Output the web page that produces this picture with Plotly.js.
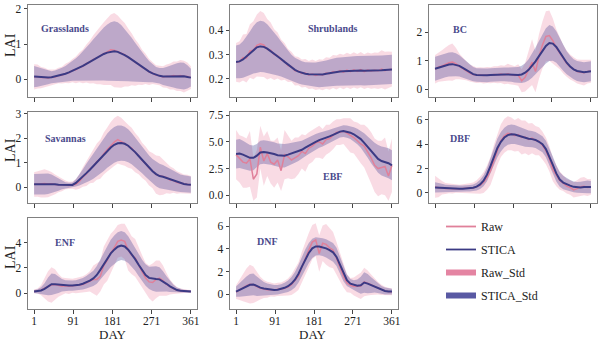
<!DOCTYPE html>
<html>
<head>
<meta charset="utf-8">
<script src="https://cdn.plot.ly/plotly-3.0.1.min.js"></script>
<style>html,body{margin:0;padding:0;background:#fff;}#chart{width:604px;height:341px;}</style>
</head>
<body>
<div id="chart"></div>
<script>
// ---------- DATA ----------
const days = [1,9,17,25,33,41,49,57,65,73,81,89,97,105,113,121,129,137,145,153,161,169,177,185,193,201,209,217,225,233,241,249,257,265,273,281,289,297,305,313,321,329,337,345,353,361];
const xTicks = [1,91,181,271,361];
const panelNames = ["Grasslands","Shrublands","BC","Savannas","EBF","DBF","ENF","DNF"];

// Grasslands
const grassRaw = [0.07,0.08,0.05,0.06,0.04,0.07,0.07,0.11,0.12,0.17,0.19,0.25,0.27,0.34,0.37,0.45,0.49,0.57,0.61,0.68,0.73,0.78,0.84,0.83,0.79,0.73,0.70,0.62,0.57,0.48,0.43,0.34,0.30,0.21,0.18,0.12,0.11,0.07,0.09,0.08,0.11,0.09,0.11,0.08,0.08,0.05];
const grassRawStd = [0.36,0.34,0.30,0.27,0.24,0.22,0.21,0.22,0.24,0.27,0.30,0.33,0.38,0.42,0.48,0.54,0.61,0.68,0.75,0.82,0.89,0.95,1.00,1.05,1.02,0.97,0.90,0.82,0.74,0.66,0.58,0.50,0.43,0.37,0.31,0.28,0.28,0.30,0.33,0.37,0.40,0.42,0.44,0.45,0.40,0.32];
const grassStica = [0.08,0.07,0.06,0.05,0.05,0.06,0.08,0.10,0.13,0.16,0.20,0.24,0.28,0.33,0.38,0.44,0.50,0.56,0.62,0.67,0.72,0.76,0.79,0.80,0.78,0.74,0.69,0.63,0.56,0.49,0.42,0.35,0.28,0.22,0.17,0.13,0.10,0.08,0.08,0.09,0.10,0.10,0.10,0.09,0.07,0.05];
const grassSticaStd = [0.30,0.28,0.25,0.22,0.19,0.17,0.17,0.18,0.20,0.22,0.25,0.28,0.32,0.36,0.41,0.46,0.52,0.58,0.64,0.70,0.75,0.80,0.83,0.85,0.84,0.80,0.74,0.68,0.62,0.55,0.48,0.42,0.36,0.30,0.25,0.22,0.22,0.24,0.27,0.30,0.33,0.36,0.38,0.38,0.33,0.25];

// Shrublands
const shrubRaw = [0.268,0.270,0.288,0.285,0.315,0.318,0.338,0.345,0.340,0.322,0.318,0.300,0.296,0.278,0.272,0.255,0.250,0.233,0.232,0.222,0.224,0.216,0.220,0.214,0.219,0.216,0.224,0.221,0.230,0.226,0.234,0.228,0.236,0.230,0.237,0.231,0.238,0.230,0.236,0.232,0.235,0.233,0.240,0.234,0.238,0.240];
const shrubRawStd = [0.080,0.085,0.095,0.100,0.110,0.120,0.128,0.135,0.132,0.125,0.115,0.105,0.095,0.085,0.076,0.068,0.062,0.060,0.058,0.058,0.058,0.058,0.060,0.060,0.062,0.063,0.065,0.066,0.068,0.070,0.070,0.071,0.072,0.072,0.073,0.072,0.073,0.072,0.073,0.073,0.074,0.075,0.078,0.078,0.075,0.072];
const shrubStica = [0.270,0.272,0.280,0.292,0.306,0.320,0.330,0.334,0.332,0.325,0.315,0.305,0.294,0.282,0.270,0.258,0.247,0.237,0.230,0.225,0.221,0.219,0.218,0.217,0.217,0.218,0.221,0.224,0.227,0.229,0.230,0.231,0.232,0.233,0.233,0.234,0.234,0.233,0.233,0.233,0.234,0.235,0.236,0.237,0.238,0.239];
const shrubSticaStd = [0.068,0.070,0.075,0.082,0.090,0.098,0.104,0.106,0.105,0.100,0.094,0.087,0.080,0.072,0.065,0.058,0.053,0.050,0.049,0.048,0.048,0.048,0.049,0.050,0.052,0.053,0.055,0.056,0.057,0.058,0.058,0.059,0.059,0.059,0.060,0.060,0.060,0.060,0.060,0.060,0.060,0.060,0.060,0.060,0.060,0.060];

// BC
const bcRaw = [0.70,0.78,0.82,0.88,0.93,0.95,0.90,0.80,0.72,0.65,0.57,0.52,0.49,0.50,0.48,0.50,0.49,0.52,0.51,0.53,0.50,0.54,0.52,0.48,0.50,0.30,0.42,0.70,0.95,0.62,1.15,1.55,1.85,1.88,1.70,1.45,1.25,1.05,0.90,0.78,0.70,0.62,0.60,0.58,0.62,0.63];
const bcRawStd = [0.50,0.52,0.55,0.58,0.62,0.65,0.55,0.45,0.38,0.33,0.30,0.28,0.27,0.27,0.28,0.28,0.28,0.29,0.30,0.31,0.32,0.35,0.34,0.33,0.38,0.40,0.50,0.65,0.80,0.72,0.78,0.82,0.88,0.88,0.78,0.65,0.55,0.50,0.46,0.44,0.42,0.42,0.43,0.45,0.42,0.40];
const bcStica = [0.72,0.76,0.80,0.84,0.87,0.88,0.86,0.82,0.75,0.67,0.59,0.53,0.50,0.49,0.49,0.49,0.50,0.51,0.52,0.52,0.52,0.52,0.51,0.50,0.50,0.52,0.58,0.68,0.82,0.98,1.16,1.35,1.52,1.62,1.60,1.48,1.30,1.10,0.93,0.80,0.70,0.64,0.61,0.60,0.61,0.63];
const bcSticaStd = [0.42,0.42,0.42,0.42,0.42,0.42,0.40,0.37,0.33,0.30,0.27,0.25,0.24,0.24,0.24,0.24,0.24,0.24,0.24,0.24,0.24,0.24,0.25,0.26,0.28,0.30,0.33,0.37,0.42,0.48,0.53,0.58,0.62,0.63,0.60,0.55,0.50,0.45,0.40,0.37,0.35,0.35,0.35,0.35,0.35,0.35];

// Savannas
const savRaw = [0.12,0.14,0.13,0.16,0.14,0.15,0.12,0.12,0.09,0.10,0.08,0.09,0.12,0.24,0.42,0.55,0.75,0.85,1.05,1.15,1.38,1.55,1.72,1.85,1.95,1.88,1.80,1.68,1.60,1.42,1.30,1.10,0.97,0.78,0.68,0.52,0.48,0.42,0.40,0.30,0.28,0.20,0.18,0.13,0.13,0.10];
const savRawStd = [0.50,0.52,0.55,0.58,0.55,0.48,0.40,0.32,0.25,0.18,0.15,0.15,0.22,0.30,0.40,0.50,0.58,0.66,0.74,0.80,0.86,0.90,0.95,0.98,0.98,0.96,0.92,0.88,0.84,0.80,0.76,0.72,0.70,0.70,0.72,0.78,0.80,0.72,0.64,0.56,0.50,0.46,0.42,0.40,0.38,0.36];
const savStica = [0.13,0.13,0.14,0.15,0.15,0.14,0.13,0.11,0.10,0.09,0.09,0.10,0.18,0.30,0.44,0.58,0.72,0.87,1.02,1.18,1.34,1.50,1.63,1.74,1.80,1.81,1.78,1.70,1.58,1.44,1.28,1.12,0.95,0.80,0.66,0.54,0.46,0.43,0.38,0.32,0.26,0.21,0.17,0.14,0.12,0.11];
const savSticaStd = [0.42,0.43,0.44,0.44,0.42,0.38,0.32,0.25,0.18,0.12,0.10,0.10,0.15,0.22,0.30,0.38,0.45,0.52,0.58,0.63,0.67,0.70,0.72,0.73,0.73,0.72,0.70,0.67,0.64,0.60,0.57,0.54,0.52,0.50,0.50,0.50,0.50,0.48,0.45,0.42,0.40,0.38,0.36,0.35,0.34,0.33];

// EBF
const ebfRaw = [3.8,3.4,3.1,3.0,3.4,1.5,2.0,4.5,3.2,3.9,3.1,2.9,3.3,2.3,3.8,3.6,3.3,3.5,3.7,4.1,3.9,4.4,4.6,4.9,5.0,4.8,5.2,5.3,5.6,5.9,5.9,6.0,5.8,5.6,5.4,5.1,4.8,4.6,4.1,3.5,2.8,2.5,2.6,2.7,1.8,2.8];
const ebfRawStd = [2.3,2.2,2.4,2.3,2.6,2.0,2.2,2.0,2.3,2.1,2.0,2.2,2.1,1.9,2.3,2.0,1.8,1.9,1.7,1.6,1.7,1.5,1.5,1.4,1.5,1.4,1.4,1.3,1.3,1.2,1.2,1.2,1.4,1.6,1.5,1.7,1.8,2.0,2.2,2.4,2.5,2.6,2.5,2.7,2.3,2.5];
const ebfStica = [3.85,3.9,3.8,3.65,3.5,3.5,3.7,4.0,4.05,4.0,3.95,3.85,3.75,3.7,3.7,3.8,3.9,4.0,4.1,4.25,4.45,4.65,4.85,5.0,5.15,5.25,5.35,5.5,5.65,5.8,5.95,6.0,5.95,5.85,5.7,5.5,5.25,4.9,4.5,4.1,3.7,3.4,3.2,3.1,3.0,2.8];
const ebfSticaStd = [1.35,1.35,1.3,1.25,1.2,1.15,1.1,1.1,1.1,1.1,1.1,1.1,1.1,1.1,1.1,1.05,1.0,0.95,0.9,0.85,0.8,0.78,0.75,0.72,0.7,0.68,0.65,0.62,0.6,0.57,0.55,0.55,0.57,0.6,0.65,0.72,0.8,0.9,1.0,1.1,1.2,1.3,1.35,1.4,1.4,1.4];

// DBF
const dbfRaw = [0.50,0.40,0.42,0.36,0.38,0.34,0.37,0.33,0.36,0.35,0.40,0.40,0.48,0.62,0.85,1.25,1.80,2.70,3.60,4.30,4.70,4.90,4.85,4.70,4.80,4.55,4.60,4.40,4.50,4.30,4.25,3.90,3.45,2.80,1.90,1.40,1.00,0.80,0.55,0.45,0.25,0.35,0.50,0.55,0.45,0.50];
const dbfRawStd = [0.90,0.75,0.55,0.45,0.40,0.38,0.35,0.35,0.36,0.38,0.40,0.45,0.55,0.70,0.85,1.00,1.15,1.25,1.30,1.35,1.40,1.40,1.35,1.30,1.35,1.40,1.35,1.30,1.25,1.20,1.15,1.15,1.10,1.05,0.95,0.85,0.75,0.65,0.60,0.60,0.62,0.68,0.75,0.75,0.70,0.65];
const dbfStica = [0.45,0.43,0.40,0.38,0.37,0.36,0.35,0.35,0.35,0.36,0.38,0.42,0.52,0.70,1.00,1.50,2.20,3.00,3.70,4.20,4.55,4.75,4.82,4.80,4.72,4.60,4.50,4.45,4.42,4.35,4.20,4.00,3.60,3.00,2.30,1.60,1.10,0.85,0.70,0.60,0.50,0.45,0.45,0.48,0.50,0.48];
const dbfSticaStd = [0.42,0.40,0.35,0.30,0.28,0.26,0.25,0.25,0.25,0.25,0.26,0.28,0.32,0.38,0.46,0.55,0.65,0.72,0.78,0.80,0.80,0.80,0.80,0.78,0.75,0.72,0.70,0.68,0.66,0.65,0.65,0.66,0.68,0.70,0.70,0.66,0.60,0.55,0.50,0.46,0.44,0.44,0.46,0.50,0.52,0.50];

// ENF
const enfRaw = [0.15,0.18,0.25,0.40,0.55,0.65,0.70,0.62,0.55,0.60,0.55,0.60,0.60,0.65,0.70,0.80,0.95,1.10,1.10,1.35,2.20,2.60,3.20,3.60,4.10,4.20,4.10,3.40,3.00,2.80,2.20,1.70,1.20,0.90,0.85,1.10,1.20,1.00,0.70,0.50,0.35,0.25,0.20,0.17,0.16,0.15];
const enfRawStd = [0.15,0.20,0.40,0.80,1.20,1.40,1.20,0.90,0.70,0.60,0.60,0.55,0.60,0.60,0.65,0.70,0.80,1.10,1.30,1.20,1.50,1.60,1.50,1.40,1.30,1.30,1.40,1.60,1.50,1.50,1.40,1.30,1.20,1.30,1.50,1.50,1.40,1.20,0.90,0.60,0.40,0.25,0.18,0.14,0.12,0.12];
const enfStica = [0.15,0.17,0.22,0.35,0.55,0.72,0.72,0.68,0.64,0.62,0.61,0.61,0.63,0.68,0.76,0.87,1.00,1.18,1.45,1.85,2.30,2.75,3.15,3.45,3.68,3.78,3.70,3.45,3.10,2.70,2.25,1.80,1.45,1.22,1.15,1.13,1.10,0.95,0.75,0.55,0.38,0.26,0.20,0.17,0.16,0.15];
const enfSticaStd = [0.12,0.15,0.25,0.45,0.70,0.85,0.80,0.65,0.50,0.42,0.40,0.40,0.40,0.42,0.45,0.50,0.55,0.60,0.70,0.80,0.90,1.00,1.08,1.12,1.15,1.15,1.12,1.05,0.98,0.92,0.88,0.85,0.85,0.88,0.95,1.00,0.95,0.80,0.60,0.45,0.30,0.20,0.15,0.12,0.10,0.10];

// DNF
const dnfRaw = [0.20,0.42,0.60,0.78,0.90,0.85,0.70,0.55,0.48,0.42,0.44,0.38,0.45,0.45,0.55,0.65,0.85,1.20,1.60,2.40,3.20,3.90,4.60,4.80,3.60,4.50,4.40,4.10,3.90,3.20,2.40,1.60,1.00,0.80,0.70,0.72,0.75,1.10,1.00,0.85,0.70,0.55,0.40,0.30,0.25,0.22];
const dnfRawStd = [0.60,0.90,1.20,1.50,1.70,1.60,1.30,1.00,0.80,0.70,0.62,0.58,0.58,0.60,0.65,0.75,0.90,1.05,1.20,1.35,1.45,1.50,1.50,1.45,1.60,1.55,1.80,1.70,1.60,1.40,1.20,1.00,0.80,0.65,0.80,1.00,1.15,1.25,1.10,0.90,0.70,0.55,0.45,0.38,0.34,0.30];
const dnfStica = [0.25,0.40,0.55,0.70,0.85,0.88,0.72,0.60,0.52,0.46,0.42,0.40,0.42,0.48,0.58,0.72,0.95,1.30,1.80,2.45,3.10,3.65,4.05,4.22,4.22,4.15,4.05,3.90,3.70,3.30,2.60,1.80,1.25,0.95,0.82,0.76,0.80,1.05,0.95,0.82,0.72,0.55,0.40,0.30,0.25,0.25];
const dnfSticaStd = [0.45,0.60,0.75,0.88,0.95,0.95,0.85,0.70,0.58,0.50,0.45,0.42,0.42,0.42,0.45,0.50,0.58,0.68,0.78,0.85,0.88,0.88,0.85,0.80,0.78,0.78,0.80,0.82,0.82,0.80,0.75,0.65,0.50,0.40,0.42,0.55,0.75,0.90,0.85,0.70,0.55,0.45,0.35,0.30,0.28,0.25];

// y-axis ticks per panel
const yTickVals = [[0,1,2],[0.2,0.3,0.4],[0,1,2],[0,1,2,3],[0,2.5,5,7.5],[0,2,4,6],[0,2,4],[0,2,4,6]];
const yRanges = [[-0.5,2.11],[0.125,0.505],[-0.27,2.95],[-0.64,3.10],[-0.72,7.83],[-0.83,6.69],[-1.24,5.95],[-1.28,6.72]];

// ---------- STYLE ----------
const FONT = "Liberation Serif, Times New Roman, serif";
const RAW_FILL = "rgba(232,122,156,0.27)";
const STICA_FILL = "rgba(72,70,150,0.34)";
const RAW_LINE = "#e0809a";
const STICA_LINE = "#3b3a84";
const TITLE_COLOR = "#4a4a8c";
const TICK_SIZE = 11.5;

const panels = [
  [grassRaw, grassRawStd, grassStica, grassSticaStd],
  [shrubRaw, shrubRawStd, shrubStica, shrubSticaStd],
  [bcRaw, bcRawStd, bcStica, bcSticaStd],
  [savRaw, savRawStd, savStica, savSticaStd],
  [ebfRaw, ebfRawStd, ebfStica, ebfSticaStd],
  [dbfRaw, dbfRawStd, dbfStica, dbfSticaStd],
  [enfRaw, enfRawStd, enfStica, enfSticaStd],
  [dnfRaw, dnfRawStd, dnfStica, dnfSticaStd]
];

const W = 604, H = 341;
const colPx = [[28,197],[230,398],[429,597]];
const rowPx = [[5,97],[111.5,203],[218,309]];
const pos = [[0,0],[0,1],[0,2],[1,0],[1,1],[1,2],[2,0],[2,1]];
const titlePos = [[65,28],[333,28],[460,29],[65,138],[332,176],[460,138],[65,242],[267,241]];
const laiY = [45, 150, 257];
const dayX = [113, 313];
const dayY = 334.5;

function band(mean, sd, xa, ya, color) {
  const up = mean.map((v,i)=>v+sd[i]);
  const lo = mean.map((v,i)=>v-sd[i]);
  return {
    x: days.concat(days.slice().reverse()),
    y: up.concat(lo.slice().reverse()),
    xaxis: xa, yaxis: ya, type: 'scatter', mode: 'lines',
    fill: 'toself', fillcolor: color, line: {width: 0, color: 'rgba(0,0,0,0)'},
    hoverinfo: 'skip', showlegend: false
  };
}

const traces = [];
const layout = {
  width: W, height: H,
  margin: {l:0, r:0, t:0, b:0},
  paper_bgcolor: '#fff', plot_bgcolor: '#fff',
  font: {family: FONT, size: 12, color: '#222'},
  showlegend: true,
  legend: {
    x: 441/W, y: 1 - 212/H, xanchor: 'left', yanchor: 'top',
    font: {family: FONT, size: 12, color: '#222'},
    traceorder: 'grouped', tracegroupgap: 4,
    bgcolor: 'rgba(0,0,0,0)', borderwidth: 0, itemwidth: 30
  },
  annotations: []
};

panels.forEach((p, k) => {
  const n = k === 0 ? '' : String(k+1);
  const xa = 'x' + n, ya = 'y' + n;
  const [r, c] = pos[k];
  traces.push(band(p[0], p[1], xa, ya, RAW_FILL));
  traces.push(band(p[2], p[3], xa, ya, STICA_FILL));
  traces.push({x: days, y: p[0], xaxis: xa, yaxis: ya, type:'scatter', mode:'lines',
    line: {color: RAW_LINE, width: 1.5}, showlegend: false, hoverinfo:'skip'});
  traces.push({x: days, y: p[2], xaxis: xa, yaxis: ya, type:'scatter', mode:'lines',
    line: {color: STICA_LINE, width: 2}, showlegend: false, hoverinfo:'skip'});

  const bottom = (r === 2);
  layout['xaxis' + n] = {
    domain: [colPx[c][0]/W, colPx[c][1]/W], anchor: ya,
    range: [-13, 375], tickvals: xTicks, ticktext: xTicks.map(String),
    showticklabels: bottom, ticks: 'outside', ticklen: 3.5, tickwidth: 1, tickcolor: '#444',
    ticklabelstandoff: -2,
    showline: true, mirror: true, linecolor: '#808080', linewidth: 1,
    showgrid: false, zeroline: false,
    tickfont: {family: FONT, size: TICK_SIZE, color: '#222'}
  };
  const tv = yTickVals[k];
  const fmt = (k === 1 || k === 4) ? (v => v.toFixed(1)) : (v => String(v));
  layout['yaxis' + n] = {
    domain: [1 - rowPx[r][1]/H, 1 - rowPx[r][0]/H], anchor: xa,
    range: yRanges[k], tickvals: tv, ticktext: tv.map(fmt),
    ticks: 'outside', ticklen: 3.5, tickwidth: 1, tickcolor: '#444',
    showline: true, mirror: true, linecolor: '#808080', linewidth: 1,
    showgrid: false, zeroline: false,
    tickfont: {family: FONT, size: TICK_SIZE, color: '#222'}
  };
  layout.annotations.push({
    xref: 'paper', yref: 'paper', x: titlePos[k][0]/W, y: 1 - titlePos[k][1]/H,
    xanchor: 'center', yanchor: 'middle', showarrow: false,
    text: '<b>' + panelNames[k] + '</b>',
    font: {family: FONT, size: 10, color: TITLE_COLOR}
  });
});

// axis titles
laiY.forEach(y => layout.annotations.push({
  xref:'paper', yref:'paper', x: 10/W, y: 1 - y/H, xanchor:'center', yanchor:'middle',
  showarrow:false, text:'LAI', textangle: -90, font:{family: FONT, size: 14, color:'#222'}
}));
dayX.forEach(x => layout.annotations.push({
  xref:'paper', yref:'paper', x: x/W, y: 1 - dayY/H, xanchor:'center', yanchor:'middle',
  showarrow:false, text:'DAY', font:{family: FONT, size: 13, color:'#222'}
}));

// legend entries
traces.push({x:[null], y:[null], type:'scatter', mode:'lines', name:'Raw', legendgroup:'a',
  line:{color: RAW_LINE, width: 1.8}, xaxis:'x', yaxis:'y', hoverinfo:'skip'});
traces.push({x:[null], y:[null], type:'scatter', mode:'lines', name:'STICA', legendgroup:'b',
  line:{color: STICA_LINE, width: 1.8}, xaxis:'x', yaxis:'y', hoverinfo:'skip'});
traces.push({x:[null], y:[null], type:'scatter', mode:'none', name:'Raw_Std', legendgroup:'c',
  fill:'toself', fillcolor:'rgba(226,122,154,0.92)', xaxis:'x', yaxis:'y', hoverinfo:'skip'});
traces.push({x:[null], y:[null], type:'scatter', mode:'none', name:'STICA_Std', legendgroup:'d',
  fill:'toself', fillcolor:'rgba(80,80,158,0.95)', xaxis:'x', yaxis:'y', hoverinfo:'skip'});

Plotly.newPlot('chart', traces, layout, {staticPlot: true, displayModeBar: false});
</script>
</body>
</html>
